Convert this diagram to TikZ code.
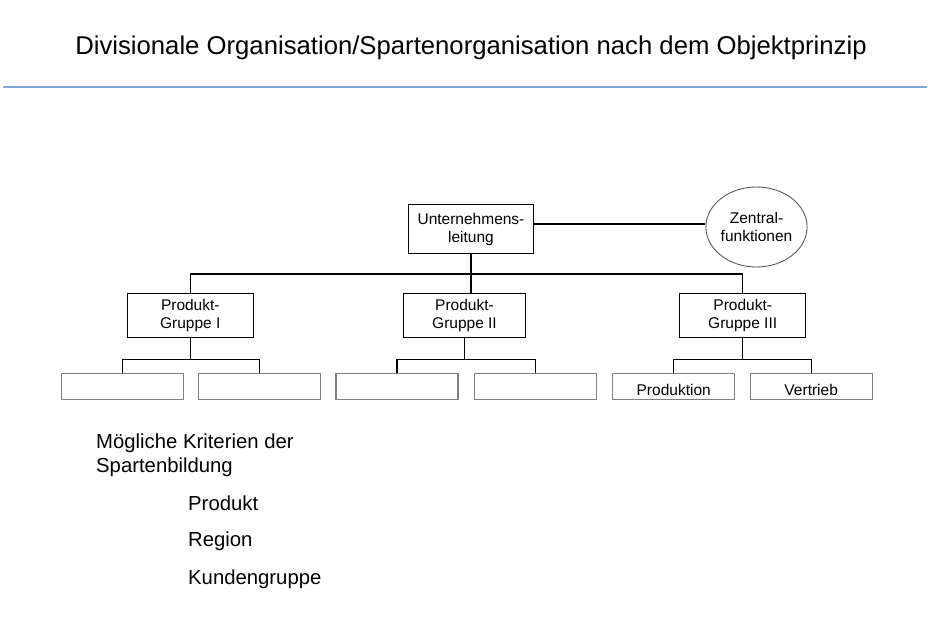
\documentclass[tikz,border=0pt]{standalone}
\usepackage{fontspec}
\setmainfont{Liberation Sans}
\usepackage{tikz}
\usetikzlibrary{positioning,shapes.geometric}
\usepackage{xcolor}
\definecolor{rulecol}{RGB}{127,166,216}
\definecolor{subgray}{RGB}{128,128,128}

\begin{document}
\begin{tikzpicture}[
  x=1pt, y=-1pt,
  box/.style={draw, line width=1.2pt, align=center, inner sep=0pt, minimum height=44pt, minimum width=126pt, font=\fontsize{15.5}{18}\selectfont},
  subbox/.style={draw=subgray, line width=1.2pt, align=center, inner sep=0pt, text height=17pt, text depth=0pt, minimum height=26pt, minimum width=122pt, font=\fontsize{15.5}{18}\selectfont},
  zf/.style={draw=black!65, ellipse, line width=0.9pt, align=center, inner sep=0pt, minimum height=80pt, minimum width=93pt, font=\fontsize{15.5}{18}\selectfont},
  crit/.style={inner sep=0pt, anchor=base west, font=\fontsize{20.3}{24}\selectfont},
  conn/.style={line width=1.3pt}
]
\useasboundingbox (0,0) rectangle (930,620);

% title and rule
\node[inner sep=0pt, anchor=base, font=\fontsize{25.7}{30}\selectfont] (title) at (471,55) {Divisionale Organisation/Spartenorganisation nach dem Objektprinzip};
\draw[rulecol, line width=2pt] (3,87) -- (927,87);

% head
\node[box, minimum height=49pt, minimum width=125pt] (ul) at (471,229) {Unternehmens-\\ leitung};
\node[zf] (zentral) at (756.5,227) {Zentral-\\ funktionen};

% product groups
\node[box, minimum width=122pt, below=39pt of ul, xshift=-6.5pt] (grp2) {Produkt-\\ Gruppe II};
\node[box, left=149pt of grp2] (grp1) {Produkt-\\ Gruppe I};
\node[box, right=153pt of grp2] (grp3) {Produkt-\\ Gruppe III};

% functions below the groups
\node[subbox, below=35pt of grp1, xshift=-67.5pt] (sub11) {};
\node[subbox, below=35pt of grp1, xshift=69pt] (sub12) {};
\node[subbox, below=35pt of grp2, xshift=-67.5pt] (sub21) {};
\node[subbox, below=35pt of grp2, xshift=71pt] (sub22) {};
\node[subbox, below=35pt of grp3, xshift=-69pt] (sub31) {Produktion};
\node[subbox, below=35pt of grp3, xshift=68.5pt] (sub32) {Vertrieb};

% criteria
\node[crit] (krit) at (96,449) {Mögliche Kriterien der};
\node[crit] (krit2) at (96,473) {Spartenbildung};
\node[crit] (produkt) at (188,511) {Produkt};
\node[crit] (region) at (188,547) {Region};
\node[crit] (kunden) at (188,584) {Kundengruppe};

% lines
\draw[conn] ([yshift=5pt]ul.east) -- ([yshift=5pt]ul.east -| zentral.west);
\draw[conn] (grp1.north) -- ++(0,-19) coordinate (bus) -- (bus -| grp3.north) -- (grp3.north);
\draw[conn] (ul.south) -- (ul.south |- grp2.north);

\draw[conn] (sub11.north) -- ++(0,-14) coordinate (b1) -| (sub12.north);
\draw[conn] (grp1.south) -- (grp1.south |- b1);
\draw[conn] (sub21.north) -- ++(0,-14) coordinate (b2) -| (sub22.north);
\draw[conn] (grp2.south) -- (grp2.south |- b2);
\draw[conn] (sub31.north) -- ++(0,-14) coordinate (b3) -| (sub32.north);
\draw[conn] (grp3.south) -- (grp3.south |- b3);

\end{tikzpicture}
\end{document}
